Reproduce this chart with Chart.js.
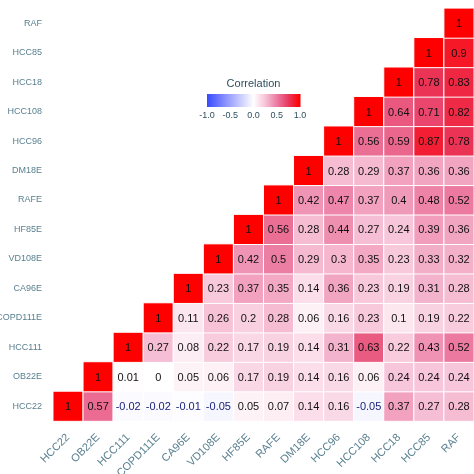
<!DOCTYPE html>
<html>
<head>
<meta charset="utf-8">
<script src="https://cdn.jsdelivr.net/npm/chart.js@4"></script>
<style>
  html, body { margin: 0; padding: 0; background: #fff; }
  #wrap { width: 474px; height: 474px; }
</style>
</head>
<body>
<div id="wrap"><canvas id="heat"></canvas></div>
<script>
// variables, left to right on x (bottom to top on y)
const vars = ['HCC22', 'OB22E', 'HCC111', 'COPD111E', 'CA96E', 'VD108E', 'HF85E', 'RAFE', 'DM18E', 'HCC96', 'HCC108', 'HCC18', 'HCC85', 'RAF'];

// each row starts at its own diagonal cell
const rHCC22 = [1, 0.57, -0.02, -0.02, -0.01, -0.05, 0.05, 0.07, 0.14, 0.16, -0.05, 0.37, 0.27, 0.28];
const rOB22E = [1, 0.01, 0, 0.05, 0.06, 0.17, 0.19, 0.14, 0.16, 0.06, 0.24, 0.24, 0.24];
const rHCC111 = [1, 0.27, 0.08, 0.22, 0.17, 0.19, 0.14, 0.31, 0.63, 0.22, 0.43, 0.52];
const rCOPD111E = [1, 0.11, 0.26, 0.2, 0.28, 0.06, 0.16, 0.23, 0.1, 0.19, 0.22];
const rCA96E = [1, 0.23, 0.37, 0.35, 0.14, 0.36, 0.23, 0.19, 0.31, 0.28];
const rVD108E = [1, 0.42, 0.5, 0.29, 0.3, 0.35, 0.23, 0.33, 0.32];
const rHF85E = [1, 0.56, 0.28, 0.44, 0.27, 0.24, 0.39, 0.36];
const rRAFE = [1, 0.42, 0.47, 0.37, 0.4, 0.48, 0.52];
const rDM18E = [1, 0.28, 0.29, 0.37, 0.36, 0.36];
const rHCC96 = [1, 0.56, 0.59, 0.87, 0.78];
const rHCC108 = [1, 0.64, 0.71, 0.82];
const rHCC18 = [1, 0.78, 0.83];
const rHCC85 = [1, 0.9];
const rRAF = [1];
const rows = [rHCC22, rOB22E, rHCC111, rCOPD111E, rCA96E, rVD108E, rHF85E, rRAFE, rDM18E, rHCC96, rHCC108, rHCC18, rHCC85, rRAF];

const legendTicks = ['-1.0', '-0.5', '0.0', '0.5', '1.0'];

const cells = [];
rows.forEach((row, i) => {
    row.forEach((v, k) => {
        cells.push({ x: vars[i + k], y: vars[i], v: v });
    });
});

const stops = [
    [-1, [59, 76, 255]], [-0.5, [160, 165, 255]], [0, [255, 255, 255]],
    [0.25, [247, 196, 216]], [0.5, [236, 126, 164]], [0.75, [232, 58, 98]], [1, [255, 0, 0]]
];
function colorFor(v) {
    for (let i = 1; i < stops.length; i++) {
        if (v <= stops[i][0]) {
            const a = stops[i - 1], b = stops[i];
            const t = (v - a[0]) / (b[0] - a[0]);
            const c = a[1].map((ch, j) => Math.round(ch + (b[1][j] - ch) * t));
            return `rgb(${c[0]},${c[1]},${c[2]})`;
        }
    }
    return 'rgb(255,0,0)';
}

const cellText = {
    id: 'cellText',
    afterDatasetsDraw(chart) {
        const ctx = chart.ctx;
        const meta = chart.getDatasetMeta(0);
        ctx.save();
        ctx.font = '11px Arial, "Liberation Sans", sans-serif';
        ctx.textAlign = 'center';
        ctx.textBaseline = 'middle';
        meta.data.forEach((pt, i) => {
            const v = cells[i].v;
            ctx.fillStyle = v < 0 ? '#1a237e' : '#111';
            ctx.fillText(String(v), pt.x, pt.y + 1);
        });
        // colour legend
        const lx = 207, ly = 94, lw = 93, lh = 13;
        ctx.font = '11px Arial, "Liberation Sans", sans-serif';
        ctx.fillStyle = '#2f5060';
        ctx.fillText('Correlation', lx + lw / 2, ly - 10);
        for (let p = 0; p < lw; p++) {
            ctx.fillStyle = colorFor(-1 + 2 * p / (lw - 1));
            ctx.fillRect(lx + p, ly, 1.5, lh);
        }
        ctx.font = '9px Arial, "Liberation Sans", sans-serif';
        ctx.fillStyle = '#2f5060';
        legendTicks.forEach((t, i) => {
            ctx.fillText(t, lx + i * lw / 4, ly + lh + 9);
        });
        ctx.restore();
    }
};

new Chart(document.getElementById('heat'), {
    type: 'scatter',
    data: {
        datasets: [{
            data: cells,
            pointStyle: 'rect',
            pointRadius: 21.3,
            pointHoverRadius: 21.3,
            backgroundColor: cells.map(c => colorFor(c.v)),
            borderColor: '#ffffff',
            borderWidth: 1,
            clip: false
        }]
    },
    options: {
        responsive: true,
        maintainAspectRatio: false,
        animation: false,
        layout: { autoPadding: false, padding: 0 },
        plugins: { legend: { display: false }, tooltip: { enabled: false } },
        scales: {
            x: {
                type: 'category',
                labels: vars,
                offset: true,
                grid: { display: false },
                border: { display: false },
                afterFit(s) { s.height = 53; },
                ticks: { color: '#5a8090', font: { size: 11, family: 'Arial, "Liberation Sans", sans-serif' }, minRotation: 45, maxRotation: 45, autoSkip: false, padding: 2 }
            },
            y: {
                type: 'category',
                labels: vars.slice().reverse(),
                offset: true,
                grid: { display: false },
                border: { display: false },
                afterFit(s) { s.width = 53; },
                ticks: { color: '#5a8090', font: { size: 9, family: 'Arial, "Liberation Sans", sans-serif' }, autoSkip: false }
            }
        }
    },
    plugins: [cellText]
});
</script>
</body>
</html>
